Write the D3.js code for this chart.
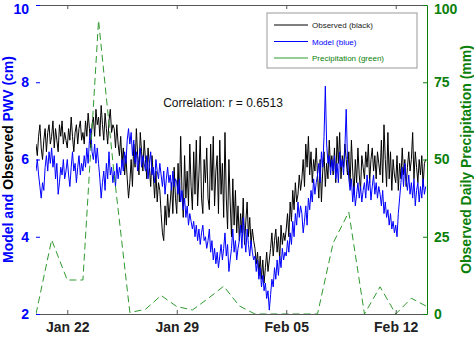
<!DOCTYPE html>
<html>
<head>
<meta charset="utf-8">
<script src="https://cdn.jsdelivr.net/npm/d3@7"></script>
<style>
  body { margin: 0; background: #fff; }
  svg { display: block; font-family: "Liberation Sans", Arial, sans-serif; }
</style>
</head>
<body>
<div id="chart"></div>
<script>
// PWV series, one row per day, a value every 2 hours
const seriesStart = new Date(2010, 0, 20);
const observedPWV = [
  6.4, 6.1, 6.6, 6.9, 6.3, 6.0, 6.5, 6.8, 6.2, 6.7, 6.9, 6.4,   // Jan 20
  6.6, 7.0, 6.3, 6.8, 6.5, 6.2, 6.9, 6.6, 7.0, 6.4, 6.7, 6.5,   // Jan 21
  6.3, 6.8, 6.5, 7.1, 6.6, 6.2, 6.7, 6.9, 6.4, 6.8, 7.0, 6.5,   // Jan 22
  6.7, 6.4, 7.0, 6.6, 7.2, 6.8, 6.3, 6.9, 7.1, 6.6, 7.3, 6.9,   // Jan 23
  7.1, 6.6, 7.4, 6.9, 6.5, 7.2, 6.8, 6.4, 7.0, 7.3, 6.7, 6.9,   // Jan 24
  6.8, 6.3, 6.9, 6.4, 6.1, 6.6, 5.9, 6.3, 5.6, 6.1, 5.5, 5.0,   // Jan 25
  5.4, 6.0, 5.3, 6.4, 5.8, 6.8, 6.1, 5.6, 6.7, 6.2, 5.7, 6.5,   // Jan 26
  6.0, 5.5, 6.3, 5.8, 5.3, 6.1, 5.6, 5.0, 5.7, 4.9, 5.4, 5.2,   // Jan 27
  4.6, 4.1, 3.9, 4.8, 4.3, 5.1, 4.5, 4.9, 5.4, 4.6, 5.8, 5.0,   // Jan 28
  4.6, 5.9, 4.9, 6.6, 5.2, 4.5, 6.1, 5.0, 5.7, 4.8, 6.4, 5.3,   // Jan 29
  4.7, 6.2, 5.1, 6.5, 4.8, 5.6, 6.6, 5.0, 4.6, 6.0, 5.4, 6.3,   // Jan 30
  5.0, 4.7, 6.4, 5.2, 6.6, 4.8, 5.7, 6.1, 4.6, 6.5, 5.1, 5.9,   // Jan 31
  4.5, 6.7, 5.0, 4.2, 6.0, 4.9, 4.0, 5.5, 4.3, 5.2, 4.1, 4.8,   // Feb 01
  3.9, 4.6, 4.1, 5.0, 3.8, 4.4, 4.9, 4.0, 4.5, 3.8, 4.2, 3.9,   // Feb 02
  3.7, 3.3, 3.6, 3.0, 3.5, 2.9, 3.4, 2.8, 3.2, 3.6, 3.1, 3.4,   // Feb 03
  3.7, 4.1, 3.5, 3.9, 4.2, 3.6, 4.0, 3.4, 4.3, 3.8, 4.1, 3.9,   // Feb 04
  4.2, 4.6, 4.0, 4.9, 4.4, 5.2, 4.7, 5.4, 4.9, 5.1, 5.6, 5.2,   // Feb 05
  5.5, 6.0, 5.3, 6.4, 5.8, 6.6, 5.6, 6.2, 5.4, 6.0, 5.7, 6.3,   // Feb 06
  5.6, 5.0, 6.0, 4.9, 5.7, 6.2, 5.3, 5.9, 5.5, 6.5, 5.8, 6.1,   // Feb 07
  5.6, 6.3, 5.4, 6.6, 5.9, 6.7, 5.5, 6.1, 5.8, 6.4, 6.0, 5.6,   // Feb 08
  6.2, 5.3, 6.5, 5.7, 5.1, 6.0, 5.4, 6.3, 5.6, 5.2, 6.1, 5.8,   // Feb 09
  5.5, 6.2, 5.8, 6.4, 5.4, 6.0, 6.3, 5.7, 6.1, 5.5, 6.2, 5.9,   // Feb 10
  5.6, 6.5, 5.4, 6.9, 6.0, 5.3, 6.7, 5.5, 6.2, 5.2, 6.0, 5.6,   // Feb 11
  5.4, 6.1, 5.2, 5.9, 5.5, 6.3, 5.6, 6.0, 5.3, 5.8, 6.2, 5.7,   // Feb 12
  6.0, 6.7, 5.5, 6.2, 5.8, 5.4, 6.0, 5.6, 6.1, 5.3, 5.9, 6.0    // Feb 13
];
const modelPWV = [
  5.7, 6.0, 5.6, 5.3, 5.0, 5.4, 5.2, 5.8, 6.1, 5.7, 6.2, 5.9,   // Jan 20
  6.3, 5.8, 6.1, 5.5, 5.9, 5.1, 5.4, 5.8, 5.6, 6.0, 5.5, 5.7,   // Jan 21
  6.0, 5.6, 5.3, 5.8, 6.2, 5.7, 5.9, 5.4, 5.8, 6.1, 5.6, 5.9,   // Jan 22
  5.7, 6.1, 5.8, 6.3, 5.9, 6.5, 6.8, 6.2, 6.0, 6.4, 5.9, 6.3,   // Jan 23
  5.9, 5.5, 5.0, 5.4, 5.7, 5.2, 5.9, 5.5, 6.2, 5.6, 5.8, 5.4,   // Jan 24
  5.7, 5.3, 5.9, 5.5, 5.8, 5.6, 6.0, 5.7, 6.2, 5.9, 6.5, 6.8,   // Jan 25
  6.4, 6.7, 6.1, 6.5, 5.9, 6.2, 5.7, 6.0, 6.3, 5.8, 6.1, 5.9,   // Jan 26
  5.7, 6.1, 5.5, 5.9, 6.2, 5.6, 5.8, 5.4, 6.0, 5.7, 5.5, 5.9,   // Jan 27
  5.6, 5.3, 5.7, 5.1, 5.5, 5.8, 5.4, 5.6, 5.2, 5.7, 5.3, 5.5,   // Jan 28
  5.4, 5.1, 5.5, 4.9, 5.2, 4.7, 5.0, 4.5, 4.8, 4.3, 4.6, 4.4,   // Jan 29
  4.2, 4.4, 4.0, 4.3, 3.9, 4.2, 3.8, 4.1, 4.3, 3.9, 4.0, 3.7,   // Jan 30
  3.9, 4.2, 3.6, 3.9, 3.4, 3.7, 3.3, 3.6, 3.2, 3.5, 3.8, 3.4,   // Jan 31
  3.7, 4.1, 3.5, 3.8, 3.1, 3.4, 3.7, 4.2, 3.6, 3.9, 3.4, 3.7,   // Feb 01
  3.9, 4.3, 3.7, 4.5, 4.0, 3.6, 4.2, 3.8, 3.5, 3.9, 3.6, 3.4,   // Feb 02
  3.5, 3.1, 3.4, 2.9, 3.2, 2.7, 3.0, 2.6, 2.8, 2.4, 2.6, 2.1,   // Feb 03
  2.5, 2.9, 2.7, 3.2, 2.9, 3.4, 3.0, 3.5, 3.2, 3.7, 3.4, 3.6,   // Feb 04
  3.5, 3.9, 3.6, 4.1, 3.8, 4.4, 4.0, 4.6, 4.3, 4.9, 4.5, 4.8,   // Feb 05
  4.6, 4.1, 4.4, 4.8, 4.3, 5.0, 4.7, 5.2, 4.9, 5.5, 5.1, 5.4,   // Feb 06
  5.6, 5.9, 5.4, 6.2, 5.8, 6.6, 7.9, 6.4, 5.9, 6.1, 5.6, 6.0,   // Feb 07
  5.7, 6.1, 5.5, 5.9, 5.4, 6.2, 5.8, 6.0, 5.6, 6.3, 7.3, 6.0,   // Feb 08
  5.5, 5.2, 5.5, 4.9, 5.3, 4.8, 5.1, 5.4, 5.0, 5.3, 4.9, 5.2,   // Feb 09
  5.4, 5.0, 5.6, 5.2, 5.5, 4.95, 5.3, 5.6, 5.1, 5.4, 5.0, 5.3,  // Feb 10
  5.1, 4.8, 5.2, 4.6, 4.9, 4.5, 4.7, 4.3, 4.6, 4.2, 4.4, 4.1,   // Feb 11
  4.3, 4.0, 4.6, 5.0, 5.4, 5.8, 5.3, 5.9, 5.5, 5.2, 5.6, 5.1,   // Feb 12
  5.4, 5.0, 5.5, 4.8, 5.2, 5.4, 4.9, 5.3, 5.0, 5.5, 5.1, 5.3    // Feb 13
];
// daily precipitation (mm), Jan 20 .. Feb 14
const precipitation = [
  0, 24, 11, 11, 95, 45, 0.5, 1.5, 6, 2.4, 1.3, 5, 9,
  2.6, 0, 0, 0, 0, 0, 23, 33, 0, 8.8, 0, 5.1, 2.4
];
const xTickDates = [new Date(2010, 0, 22), new Date(2010, 0, 29), new Date(2010, 1, 5), new Date(2010, 1, 12)];
const leftTicks = [2, 4, 6, 8, 10];
const rightTicks = [0, 25, 50, 75, 100];
const legendLabels = ["Observed (black)", "Model (blue)", "Precipitation (green)"];

const width = 474;
const height = 352;
const margin = { top: 5, right: 47, bottom: 38, left: 36 };
const blue = "#0000ff";
const green = "#0a800a";
const lightGreen = "#2f9a2f";

let svg = d3.select("#chart")
  .append("svg")
  .attr("width", width)
  .attr("height", height);

// scales: one time axis, two value axes (plotyy style)
var x = d3.scaleTime()
  .domain([new Date(2010, 0, 20), new Date(2010, 1, 14)])
  .range([margin.left, width - margin.right]);
var yLeft = d3.scaleLinear().domain([2, 10]).range([height - margin.bottom, margin.top]);
var yRight = d3.scaleLinear().domain([0, 100]).range([height - margin.bottom, margin.top]);

const x0 = margin.left, x1 = width - margin.right;
const y0 = margin.top, y1 = height - margin.bottom;

svg.append("clipPath").attr("id", "clip")
  .append("rect").attr("x", x0).attr("y", y0).attr("width", x1 - x0).attr("height", y1 - y0);

const obsData = observedPWV.map((v, i) => ({ t: d3.timeHour.offset(seriesStart, i * 2), v: v }));
const modData = modelPWV.map((v, i) => ({ t: d3.timeHour.offset(seriesStart, i * 2), v: v }));
const preData = precipitation.map((v, i) => ({ t: d3.timeDay.offset(seriesStart, i), v: v }));

var lineLeft = d3.line().x(d => x(d.t)).y(d => yLeft(d.v));
var lineRight = d3.line().x(d => x(d.t)).y(d => yRight(d.v));

// data lines
let plot = svg.append("g").attr("clip-path", "url(#clip)");
plot.append("path").datum(obsData)
  .attr("fill", "none").attr("stroke", "#000").attr("stroke-width", 1)
  .attr("d", lineLeft);
plot.append("path").datum(modData)
  .attr("fill", "none").attr("stroke", blue).attr("stroke-width", 1)
  .attr("d", lineLeft);
plot.append("path").datum(preData)
  .attr("fill", "none").attr("stroke", lightGreen).attr("stroke-width", 1)
  .attr("stroke-dasharray", "7,4")
  .attr("d", lineRight);

const fontFam = "Liberation Sans, Arial, sans-serif";

// bottom / top axes
svg.append("g")
  .attr("transform", "translate(0," + y1 + ")")
  .call(d3.axisBottom(x).tickValues(xTickDates).tickFormat(d3.timeFormat("%b %d")).tickSizeInner(-4).tickSizeOuter(0).tickPadding(8))
  .call(g => g.select(".domain").attr("stroke", "#555"))
  .call(g => g.selectAll(".tick line").attr("stroke", "#555"))
  .call(g => g.selectAll("text").attr("font-size", 14).attr("font-weight", "bold").attr("fill", "#222").attr("font-family", fontFam));

svg.append("g")
  .attr("transform", "translate(0," + y0 + ")")
  .call(d3.axisTop(x).tickValues(xTickDates).tickFormat("").tickSizeInner(-4).tickSizeOuter(0))
  .call(g => g.select(".domain").attr("stroke", "#555"))
  .call(g => g.selectAll(".tick line").attr("stroke", "#555"));

// left axis (blue), no spine
svg.append("g")
  .attr("transform", "translate(" + x0 + ",0)")
  .call(d3.axisLeft(yLeft).tickValues(leftTicks).tickSizeInner(-4).tickSizeOuter(0).tickPadding(7))
  .call(g => g.select(".domain").remove())
  .call(g => g.selectAll(".tick line").attr("stroke", blue))
  .call(g => g.selectAll("text").attr("font-size", 14).attr("font-weight", "bold").attr("fill", blue).attr("font-family", fontFam))
  .call(g => g.selectAll(".tick").filter(d => d === 10).select("text").attr("dy", "0.62em"));

// right axis (green)
svg.append("g")
  .attr("transform", "translate(" + x1 + ",0)")
  .call(d3.axisRight(yRight).tickValues(rightTicks).tickSizeInner(-4).tickSizeOuter(0).tickPadding(7))
  .call(g => g.select(".domain").attr("stroke", green))
  .call(g => g.selectAll(".tick line").attr("stroke", green))
  .call(g => g.selectAll("text").attr("font-size", 14).attr("font-weight", "bold").attr("fill", green).attr("font-family", fontFam))
  .call(g => g.selectAll(".tick").filter(d => d === 100).select("text").attr("dy", "0.62em"));

// axis titles
let leftTitle = svg.append("text")
  .attr("transform", "translate(13," + ((y0 + y1) / 2) + ") rotate(-90)")
  .attr("text-anchor", "middle")
  .attr("font-size", 14).attr("font-weight", "bold");
leftTitle.append("tspan").attr("fill", blue).text("Model and ");
leftTitle.append("tspan").attr("fill", "#000").text("Observed");
leftTitle.append("tspan").attr("fill", blue).text(" PWV (cm)");

svg.append("text")
  .attr("transform", "translate(471," + ((y0 + y1) / 2) + ") rotate(-90)")
  .attr("text-anchor", "middle")
  .attr("font-size", 14).attr("font-weight", "bold").attr("fill", green)
  .text("Observed Daily Precipitation (mm)");

// correlation note
svg.append("text")
  .attr("x", 223).attr("y", 107)
  .attr("text-anchor", "middle").attr("font-size", 12).attr("fill", "#111")
  .text("Correlation: r = 0.6513");

// legend
let legend = svg.append("g").attr("transform", "translate(267,13)");
legend.append("rect")
  .attr("width", 150).attr("height", 55)
  .attr("fill", "#fff").attr("stroke", "#999");
const legendColors = ["#000", blue, lightGreen];
const legendText = ["#222", blue, green];
legendLabels.forEach((label, i) => {
  let row = legend.append("g").attr("transform", "translate(0," + (12 + i * 16.5) + ")");
  row.append("line").attr("x1", 7).attr("x2", 41).attr("y1", 0).attr("y2", 0)
    .attr("stroke", legendColors[i]).attr("stroke-width", 1);
  row.append("text").attr("x", 45).attr("y", 3)
    .attr("font-size", 8).attr("fill", legendText[i]).text(label);
});
</script>
</body>
</html>
